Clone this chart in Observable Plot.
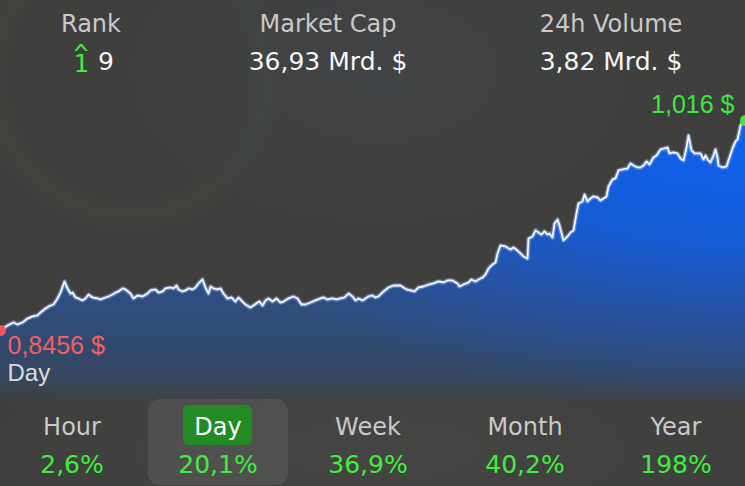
<!DOCTYPE html>
<html>
<head>
<meta charset="utf-8">
<script src="https://cdn.jsdelivr.net/npm/d3@7"></script>
<script src="https://cdn.jsdelivr.net/npm/@observablehq/plot@0.6"></script>
<style>
  html, body { margin: 0; padding: 0; background: #404040; }
  #card {
    position: relative; width: 745px; height: 486px; overflow: hidden;
    background:
      radial-gradient(circle at 130px 78px, rgba(0,0,0,0) 120px, rgba(85,120,75,0.08) 136px, rgba(0,0,0,0) 156px),
      radial-gradient(ellipse 260px 160px at 380px 70px, rgba(70,78,88,0.30), rgba(0,0,0,0)),
      radial-gradient(ellipse 400px 120px at 380px 450px, rgba(80,80,80,0.35), rgba(0,0,0,0)),
      #3f3f3e;
    font-family: "DejaVu Sans", sans-serif;
  }
  #card svg { position: absolute; left: 0; top: 0; }
  .t { position: absolute; width: 300px; text-align: center; line-height: 1; white-space: nowrap; }
  .lbl { color: #c9c9c9; font-size: 24px; }
  .val { color: #f6f6f6; font-size: 25px; }
  .pct { color: #3cf03c; font-size: 25px; }
  .tab { position: absolute; left: 148px; top: 399px; width: 140px; height: 86px; border-radius: 12px; background: rgba(255,255,255,0.08); }
  .daybox { position: absolute; left: 183px; top: 405px; width: 69px; height: 40px; border-radius: 5px; background: #238b23; }
</style>
</head>
<body>
<div id="card"></div>
<script>
// ---- data ----
const headerLabels = ["Rank", "Market Cap", "24h Volume"];
const rankValue = "9";
const rankChange = "^\n1";
const headerValues = ["36,93 Mrd. $", "3,82 Mrd. $"];
const periods = ["Hour", "Day", "Week", "Month", "Year"];
const periodChanges = ["2,6%", "20,1%", "36,9%", "40,2%", "198%"];
const selectedPeriod = "Day";
const openLabel = "0,8456 $";
const lastLabel = "1,016 $";
const openPrice = 0.8456;
const lastPrice = 1.016;
const basePrice = 0.788;
// sample index over the day (0 … 745)
const steps = [0,7,13,17,22,27,32,37,40,45,50,53,57,60,64,67,70,72,75,78,82,85,88,92,97,100,105,108,112,115,118,122,
125,130,133,137,142,147,150,155,158,162,165,170,173,176,178,182,185,188,192,195,198,202,205,208,210,213,217,220,223,227,231,235,238,242,245,250,
253,257,259,262,265,268,272,276,280,283,288,293,297,301,305,310,315,320,323,327,332,336,340,344,348,352,355,358,362,365,368,372,
375,378,383,388,393,400,403,406,410,414,418,423,428,433,438,443,447,452,457,459,463,468,471,475,478,482,485,488,492,495,497,500,
505,510,513,517,520,523,527,528,532,535,538,541,544,547,549,552,554,557,559,563,567,570,573,576,578,582,584,587,590,593,597,600,603,606,608,612,615,618,622,
627,630,633,637,640,643,646,649,653,656,660,664,667,669,673,677,680,683,686,688,691,694,697,700,703,705,707,710,713,715,717,718,722,726,728,732,735,737,740,742,745];
const prices = [0.8456,0.8497,0.8521,0.8505,0.8521,0.8553,0.8570,0.8578,0.8602,0.8635,0.8659,0.8667,0.8716,0.8764,0.8854,0.8797,0.8756,0.8764,0.8724,0.8716,0.8700,0.8716,0.8748,0.8724,0.8716,0.8708,0.8724,0.8732,0.8748,0.8764,0.8773,0.8797,
0.8789,0.8756,0.8716,0.8740,0.8732,0.8756,0.8781,0.8789,0.8764,0.8773,0.8797,0.8805,0.8797,0.8821,0.8789,0.8773,0.8781,0.8797,0.8789,0.8805,0.8838,0.8870,0.8805,0.8756,0.8813,0.8797,0.8789,0.8797,0.8756,0.8716,0.8724,0.8691,0.8724,0.8691,0.8667,0.8643,
0.8659,0.8683,0.8691,0.8659,0.8700,0.8716,0.8691,0.8716,0.8683,0.8691,0.8716,0.8732,0.8716,0.8667,0.8667,0.8683,0.8700,0.8716,0.8724,0.8708,0.8716,0.8708,0.8716,0.8724,0.8756,0.8732,0.8700,0.8716,0.8700,0.8716,0.8732,0.8740,
0.8724,0.8732,0.8773,0.8805,0.8821,0.8821,0.8805,0.8789,0.8781,0.8773,0.8805,0.8813,0.8829,0.8838,0.8854,0.8846,0.8862,0.8862,0.8838,0.8813,0.8829,0.8846,0.8870,0.8854,0.8870,0.8886,0.8911,0.8959,0.8992,0.9008,0.9081,0.9146,
0.9138,0.9113,0.9130,0.9105,0.9081,0.9057,0.9040,0.9203,0.9219,0.9268,0.9251,0.9235,0.9260,0.9235,0.9243,0.9211,0.9324,0.9357,0.9308,0.9187,0.9219,0.9251,0.9268,0.9406,0.9487,0.9503,0.9560,0.9503,0.9527,0.9544,0.9536,0.9511,0.9527,0.9544,0.9625,0.9682,0.9690,0.9755,0.9763,
0.9771,0.9812,0.9795,0.9779,0.9779,0.9795,0.9828,0.9803,0.9860,0.9876,0.9925,0.9933,0.9941,0.9893,0.9901,0.9893,0.9852,0.9836,0.9941,1.0039,0.9917,0.9893,0.9893,0.9893,0.9844,0.9876,0.9844,0.9820,0.9876,0.9925,0.9860,0.9795,0.9779,0.9787,0.9836,0.9933,0.9990,1.0006,1.0120,1.0144,1.0160];

// ---- build ----
const series = steps.map((t, i) => ({t, price: prices[i], base: basePrice}));
const first = [{t: steps[0], price: openPrice}];
const last = [{t: steps[steps.length - 1], price: lastPrice}];

const svg = Plot.plot({
  width: 745, height: 486, margin: 0,
  style: {background: "transparent", overflow: "visible"},
  x: {domain: [0, 745], range: [0, 745], axis: null},
  y: {domain: [openPrice, lastPrice], range: [330, 120], axis: null},
  marks: [
    Plot.areaY(series, {x: "t", y1: "base", y2: "price", fill: "url(#gV)"}),
    Plot.areaY(series, {x: "t", y1: "base", y2: "price", fill: "url(#gR)"}),
    Plot.lineY(series, {x: "t", y: "price", stroke: "#9fc0ff", strokeWidth: 4.5, strokeOpacity: 0.45}),
    Plot.lineY(series, {x: "t", y: "price", stroke: "#f4f7ff", strokeWidth: 1.8}),
    Plot.dot(first, {x: "t", y: "price", r: 5.5, fill: "#f25858", stroke: null}),
    Plot.dot(last, {x: "t", y: "price", r: 5.5, fill: "#3ee83e", stroke: null}),
    Plot.text(first, {x: "t", y: "price", text: () => openLabel, dx: 7, dy: 15, textAnchor: "start", fill: "#f46060", fontSize: 25, fontFamily: "Liberation Sans, Arial, sans-serif"}),
    Plot.text(first, {x: "t", y: "price", text: () => selectedPeriod, dx: 7, dy: 43, textAnchor: "start", fill: "#dcdcdc", fontSize: 24, fontFamily: "Liberation Sans, Arial, sans-serif"}),
    Plot.text(last, {x: "t", y: "price", text: () => lastLabel, dx: -11, dy: -16, textAnchor: "end", fill: "#3ee83e", fontSize: 25, fontFamily: "Liberation Sans, Arial, sans-serif"})
  ]
});

const ns = "http://www.w3.org/2000/svg";
const defs = document.createElementNS(ns, "defs");
defs.innerHTML = `
  <linearGradient id="gV" gradientUnits="userSpaceOnUse" x1="0" y1="120" x2="0" y2="400">
    <stop offset="0" stop-color="#2b56a8"/>
    <stop offset="0.55" stop-color="#2e5088"/>
    <stop offset="0.75" stop-color="#304b76"/>
    <stop offset="0.92" stop-color="#37475f"/>
    <stop offset="1" stop-color="#3c4350" stop-opacity="0.5"/>
  </linearGradient>
  <radialGradient id="gR" gradientUnits="userSpaceOnUse" cx="760" cy="110" r="620"
    gradientTransform="translate(760 110) scale(1 0.48) translate(-760 -110)">
    <stop offset="0" stop-color="#0c62f2" stop-opacity="1"/>
    <stop offset="0.45" stop-color="#0f5fe8" stop-opacity="0.8"/>
    <stop offset="0.7" stop-color="#165ad8" stop-opacity="0.4"/>
    <stop offset="1" stop-color="#1a55d0" stop-opacity="0"/>
  </radialGradient>`;
svg.insertBefore(defs, svg.firstChild);

const card = document.getElementById("card");
card.appendChild(svg);

function addText(cls, txt, cx, baseline, fs, extra) {
  const d = document.createElement("div");
  d.className = "t " + cls;
  d.textContent = txt;
  d.style.left = (cx - 150) + "px";
  d.style.top = (baseline - 0.846 * fs) + "px";
  if (extra) Object.assign(d.style, extra);
  card.appendChild(d);
  return d;
}

// header
const headerX = [91, 328, 611];
headerLabels.forEach((s, i) => addText("lbl", s, headerX[i], 32, 24));
headerValues.forEach((s, i) => addText("val", s, headerX[i + 1], 70, 25));
addText("val", rankValue, 106, 70, 25);
addText("pct", rankChange, 81, 0, 18, {
  fontFamily: "DejaVu Sans Mono, monospace", whiteSpace: "pre", lineHeight: "10px", top: "49px"
});

// footer tabs
const tab = document.createElement("div"); tab.className = "tab"; card.appendChild(tab);
const box = document.createElement("div"); box.className = "daybox"; card.appendChild(box);
const tabX = [72, 218, 368, 525, 676];
periods.forEach((p, i) => {
  addText("lbl", p, tabX[i], 435, 24, p === selectedPeriod ? {color: "#ffffff"} : null);
  addText("pct", periodChanges[i], tabX[i], 473, 25);
});
</script>
</body>
</html>
